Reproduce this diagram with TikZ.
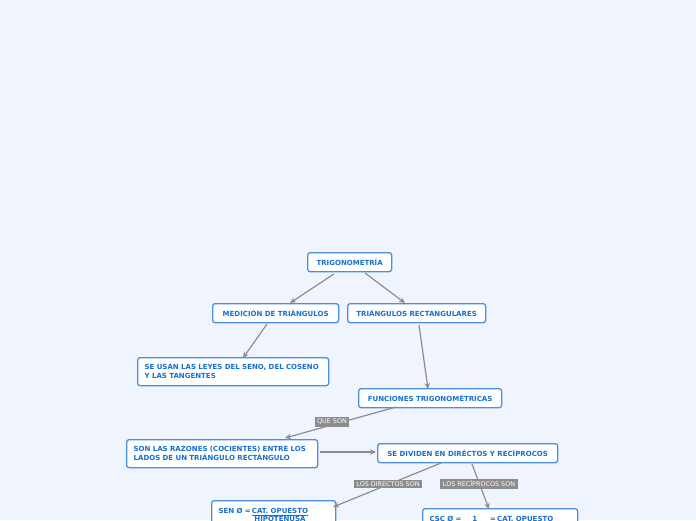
\documentclass[tikz,border=0pt]{standalone}
\usepackage{fontspec}
\setmainfont{DejaVu Sans}
\usetikzlibrary{arrows.meta}
\definecolor{bg}{HTML}{F0F4FD}
\definecolor{bd}{HTML}{4A90E2}
\definecolor{tx}{HTML}{1670D0}
\definecolor{ln}{HTML}{8A8D94}
\definecolor{lb}{HTML}{8C8C8C}
\tikzset{
 box/.style={draw=bd,line width=1.3pt,rounded corners=2.5pt,fill=white,text=tx,font=\fontsize{7}{9.2}\selectfont\bfseries,inner xsep=7pt,inner ysep=0pt,anchor=north west,align=left},
 lab/.style={fill=lb,text=white,font=\fontsize{6.4}{7}\selectfont,inner xsep=2.5pt,inner ysep=2pt},
 con/.style={draw=ln,line width=1.2pt,-{Stealth[length=6pt,width=5.5pt]}}
}
\begin{document}
\begin{tikzpicture}[x=1pt,y=-1pt]
\useasboundingbox (0,0) rectangle (696,520);
\fill[bg] (0,0) rectangle (696,520);
\clip (0,0) rectangle (696,520);
\node[box,minimum width=84pt,minimum height=19pt] (t) at (307,252) {TRIGONOMETRÍA};
\node[box,minimum width=126pt,minimum height=19pt] (m) at (212,303) {MEDICIÓN DE TRIÁNGULOS};
\node[box,minimum width=138pt,minimum height=19pt] (r) at (347,303) {TRIÁNGULOS RECTANGULARES};
\node[box,minimum width=191pt,minimum height=28pt,text width=177pt] (u) at (137,357) {SE USAN LAS LEYES DEL SENO, DEL COSENO\\Y LAS TANGENTES};
\node[box,minimum width=143pt,minimum height=19pt] (f) at (358,388) {FUNCIONES TRIGONOMÉTRICAS};
\node[box,minimum width=191pt,minimum height=28pt,text width=177pt] (s) at (126,439) {SON LAS RAZONES (COCIENTES) ENTRE LOS\\LADOS DE UN TRIÁNGULO RECTÁNGULO};
\node[box,minimum width=180pt,minimum height=19pt] (d) at (377,443) {SE DIVIDEN EN DIRÉCTOS Y RECÍPROCOS};
\node[box,minimum width=124pt,minimum height=30pt,text width=110pt,inner ysep=3pt] (sen) at (211,500) {\begin{tabular}{@{}l@{\,}c@{}}SEN Ø = & \underline{CAT. OPUESTO}\\[-2pt] & HIPOTENUSA\end{tabular}};
\node[box,minimum width=155pt,minimum height=30pt,text width=141pt,inner ysep=4pt] (csc) at (422,508) {\begin{tabular}{@{}l@{\,}c@{\,}l@{\,}c@{}}CSC Ø = & \ 1\ \  & \ = & \underline{CAT. OPUESTO}\\[-2pt] & SEN Ø & & HIPOTENUSA\end{tabular}};
\draw[con] (t) ++(-16,12) -- (290,303);
\draw[con] (365,273) -- (405,303);
\draw[con] (267,324) -- (243,358);
\draw[con] (419,325) -- (428,389);
\draw[con] (396,407) -- (285,438);
\node[lab] at (332,422) {QUE SON};
\draw[con] (320,452) -- (376,452);
\draw[con] (441,463) -- (333,507);
\node[lab] at (388,484) {LOS DIRECTOS SON};
\draw[con] (472,464) -- (489,509);
\node[lab] at (479,484) {LOS RECÍPROCOS SON};
\end{tikzpicture}
\end{document}
